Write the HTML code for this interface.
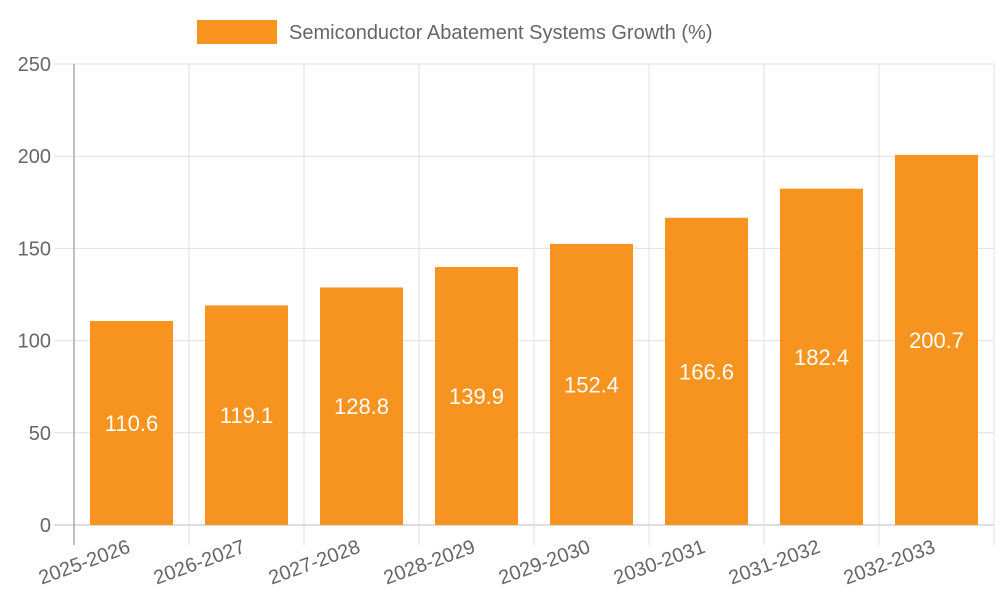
<!DOCTYPE html>
<html><head><meta charset="utf-8">
<style>
html,body{margin:0;padding:0;background:#fff;}
svg{display:block;font-family:"Liberation Sans",Arial,sans-serif;}
</style></head>
<body>
<svg id="chart" width="1000" height="600" viewBox="0 0 1000 600" xmlns="http://www.w3.org/2000/svg">
  <g>
    <rect x="197" y="20" width="80" height="24" fill="#f7941f"/>
    <text x="289" y="39" font-size="20" fill="#666">Semiconductor Abatement Systems Growth (%)</text>
  </g>
  <g id="grid"></g>
  <g id="bars"></g>
  <g id="axes"></g>
</svg>
<script>
const categories = ["2025-2026","2026-2027","2027-2028","2028-2029","2029-2030","2030-2031","2031-2032","2032-2033"];
const values = [110.6,119.1,128.8,139.9,152.4,166.6,182.4,200.7];
const yTicks = [0,50,100,150,200,250];

const NS="http://www.w3.org/2000/svg";
const L=74,R=994,T=64,B=525,yMax=250;
const band=(R-L)/categories.length;
const x=i=>L+band*i;
const y=v=>B-(v/yMax)*(B-T);
function mk(tag,attrs,parent,text){const e=document.createElementNS(NS,tag);for(const k in attrs)e.setAttribute(k,attrs[k]);if(text!==undefined)e.textContent=text;parent.appendChild(e);return e;}
const grid=document.getElementById('grid'),bars=document.getElementById('bars'),axes=document.getElementById('axes');

yTicks.forEach(t=>{
  const g=mk('line',{x1:54,x2:R,y1:y(t),y2:y(t),stroke:t===0?'#bbb':'#e0e0e0','stroke-width':1},grid);
  
  
  const lb=mk('text',{x:51,y:y(t)+7,'text-anchor':'end','font-size':20,fill:'#666'},axes,String(t));
  
  
});
for(let i=0;i<=categories.length;i++){
  const g=mk('line',{x1:x(i),x2:x(i),y1:T,y2:545,stroke:i===0?'#aaa':'#e0e0e0','stroke-width':1},grid);
  
  
}
categories.forEach((c,i)=>{
  const cx=x(i)+band/2,bw=83;
  const r=mk('rect',{x:cx-bw/2,y:y(values[i]),width:bw,height:B-y(values[i]),fill:'#f7941f'},bars);
  
  
  const v=mk('text',{x:cx,y:(y(values[i])+B)/2+8,'text-anchor':'middle','font-size':22,fill:'#fff'},bars,values[i].toFixed(1));
  
  
  const lb=mk('text',{x:cx,y:552,'text-anchor':'end','font-size':20,fill:'#666',transform:`rotate(-20 ${cx} 552)`},axes,c);
  
  
});
const ya=mk('line',{x1:L,x2:L,y1:T,y2:545,stroke:'#aaa','stroke-width':1.5},axes);


</script>
</body></html>
